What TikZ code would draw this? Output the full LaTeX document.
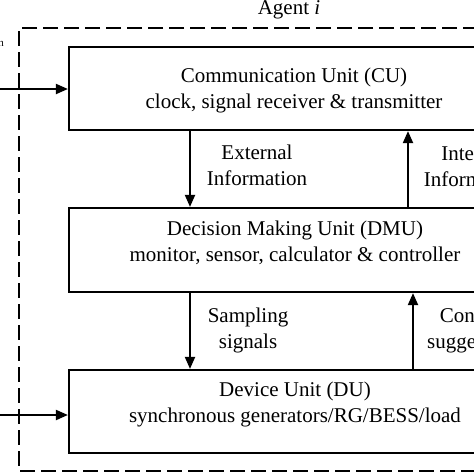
\documentclass[tikz,border=0pt]{standalone}
\usepackage{fontspec}
\setmainfont{Liberation Serif}
\usetikzlibrary{arrows.meta}
\begin{document}
\begin{tikzpicture}[x=1pt,y=-1pt,
  unitbox/.style={draw, line width=2.2pt, rectangle, inner sep=0pt},
  txt/.style={align=center, font=\fontsize{21}{26}\selectfont, inner sep=0pt},
  arr/.style={line width=2pt, -{Triangle[length=12pt,width=10pt]}},
  agentbox/.style={line width=2.6pt, dash pattern=on 15pt off 6pt}]
\useasboundingbox (0,0) rectangle (474,474);
\clip (0,0) rectangle (474,474);
\fill[white] (0,0) rectangle (474,474);
% agent dashed frame
\draw[agentbox] (520,28) -- (19,28) -- (19,471) -- (520,471);
\node[txt] (agent) at (289,10) {Agent {\itshape i}};
\node[anchor=east, inner sep=0pt, font=\fontsize{11}{13}\selectfont] (ncut) at (4,44) {n};
% unit boxes
\node[unitbox, minimum width=450pt, minimum height=83pt] (CU) at (294,88.5) {};
\node[unitbox, minimum width=450pt, minimum height=84pt] (DMU) at (294,250) {};
\node[unitbox, minimum width=450pt, minimum height=83pt] (DU) at (294,411.5) {};
\node[txt] (CUt) at (294,90) {Communication Unit (CU)\\clock, signal receiver \& transmitter};
\node[txt] (DMUt) at (295,243) {Decision Making Unit (DMU)\\monitor, sensor, calculator \& controller};
\node[txt] (DUt) at (295,404.5) {Device Unit (DU)\\synchronous generators/RG/BESS/load};
% x positions of vertical connectors
\coordinate (xa) at (190,0);
\coordinate (xb) at (408,0);
\coordinate (xc) at (413,0);
\draw[arr] (CU.south -| xa) -- (DMU.north -| xa);
\draw[arr] (DMU.north -| xb) -- (CU.south -| xb);
\draw[arr] (DMU.south -| xa) -- (DU.north -| xa);
\draw[arr] (DU.north -| xc) -- (DMU.south -| xc);
\node[txt] (ext) at (257,165) {External\\Information};
\node[txt] (int) at (474,166) {Internal\\Information};
\node[txt] (samp) at (248,330.5) {Sampling\\signals};
\node[txt] (ctrl) at (472,330.5) {Control\\suggestion};
% inputs from outside
\coordinate (inA) at (-5,89);
\coordinate (inB) at (-5,415);
\draw[arr] (inA) -- (inA -| CU.west);
\draw[arr] (inB) -- (inB -| DU.west);
\end{tikzpicture}
\end{document}
